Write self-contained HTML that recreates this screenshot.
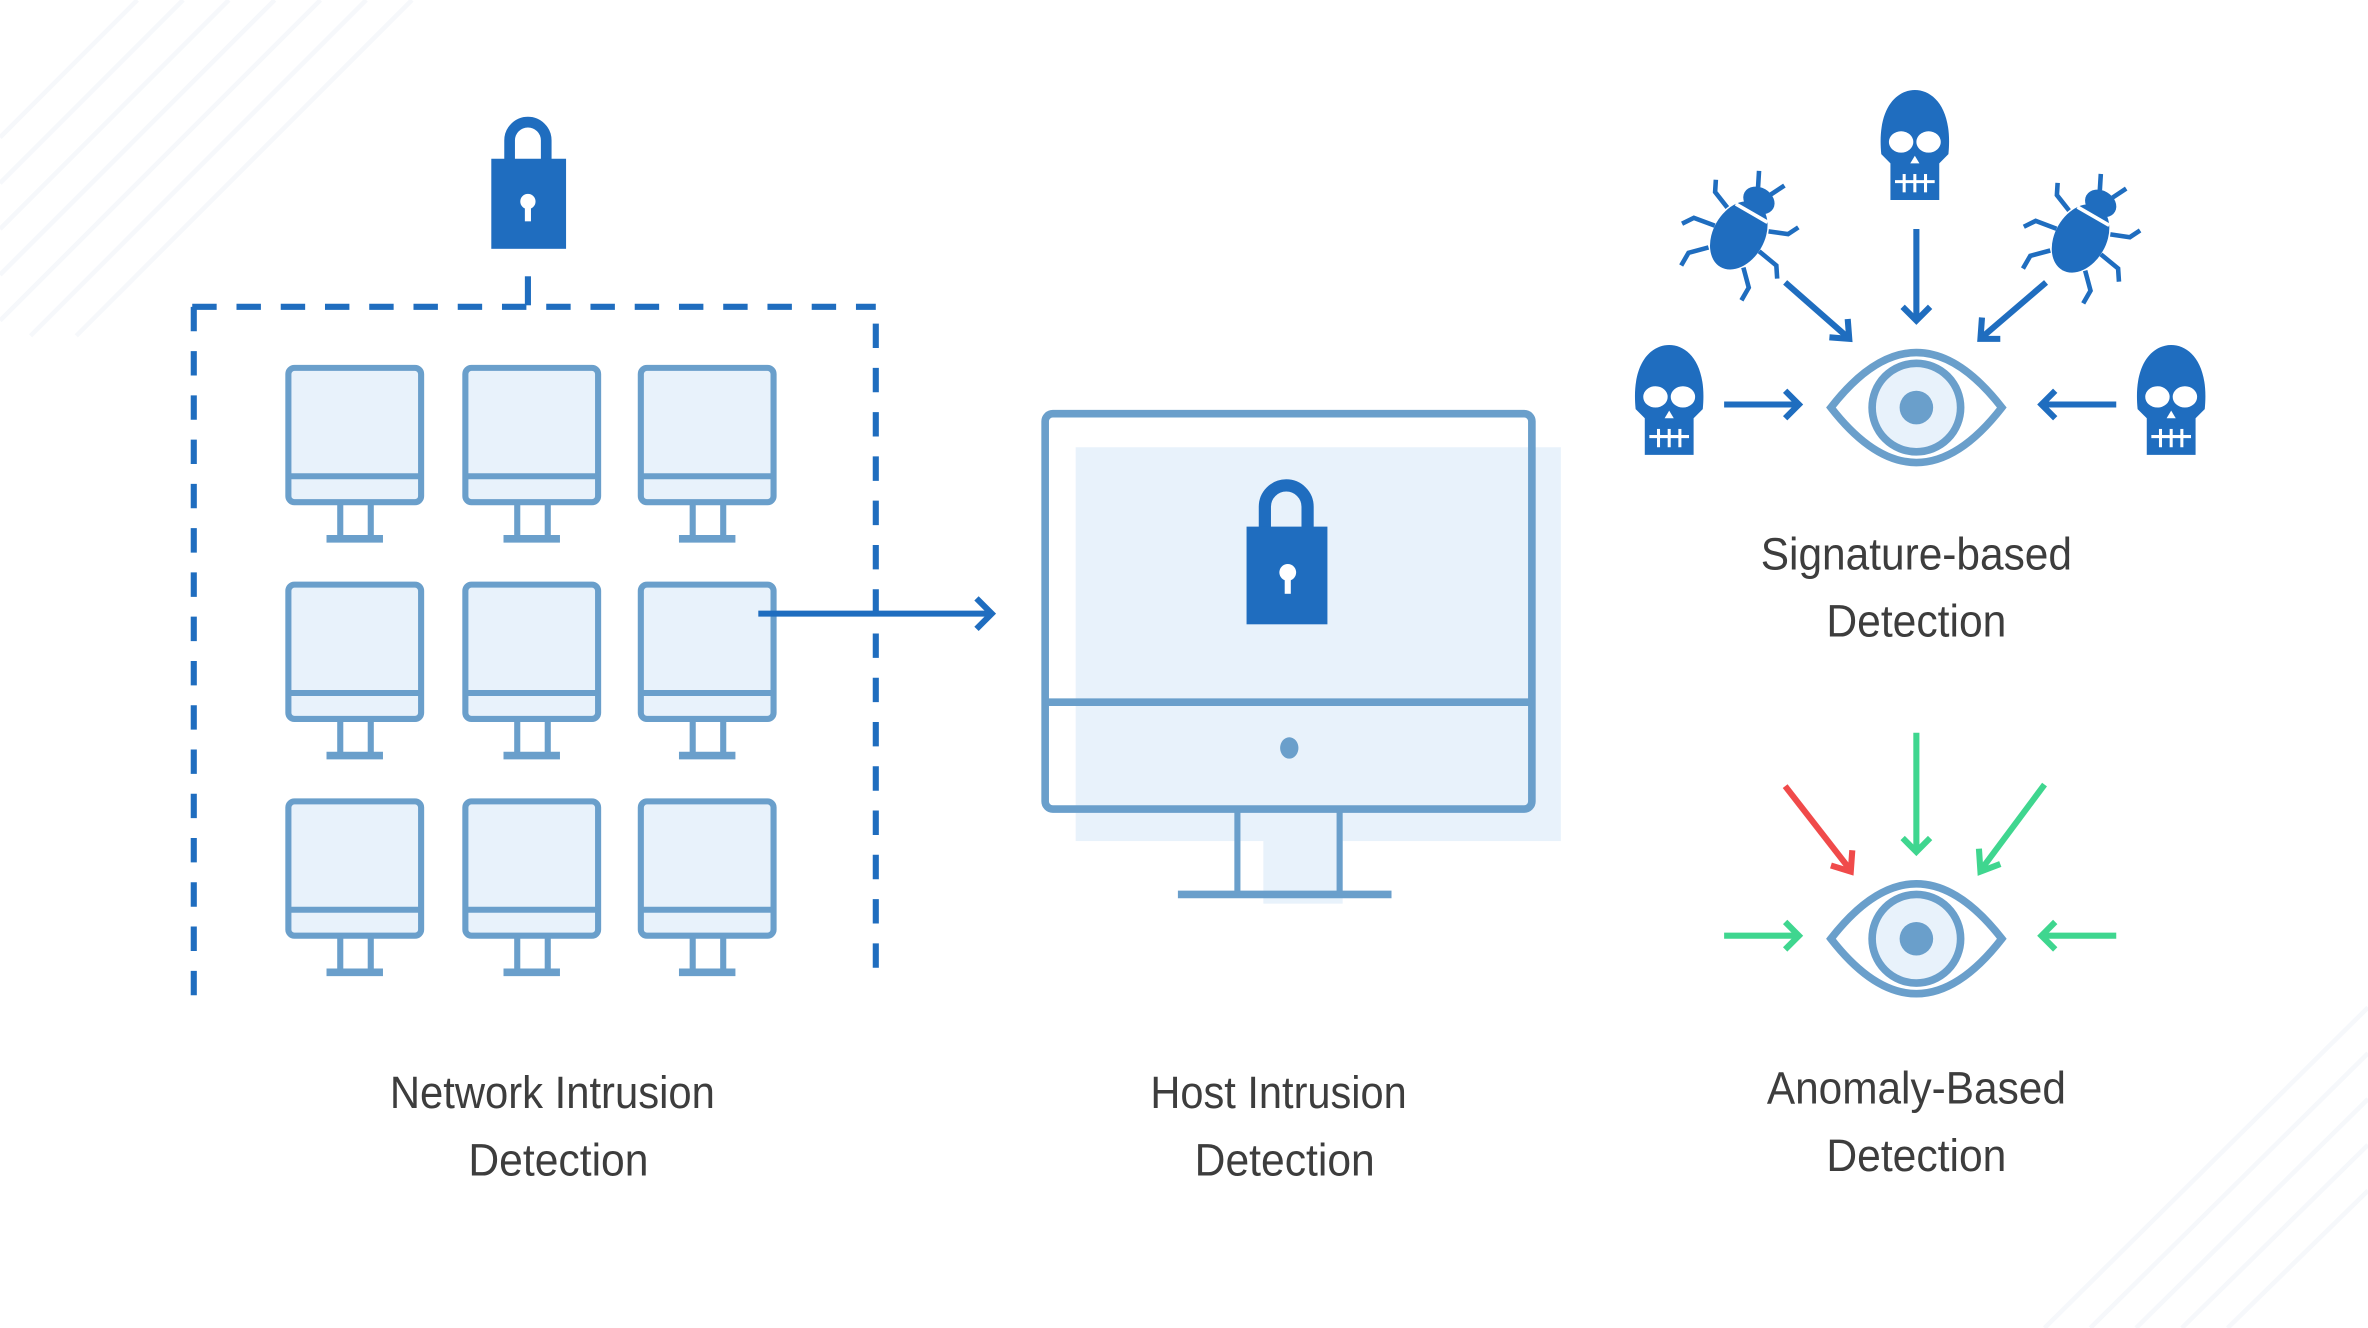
<!DOCTYPE html>
<html><head><meta charset="utf-8"><style>
html,body{margin:0;padding:0;background:#fff;}
svg{display:block;}
text{font-family:"Liberation Sans",sans-serif;fill:#3d3d3d;font-size:30px;}
</style></head><body>
<svg width="2368" height="1328" viewBox="0 0 1552 870" preserveAspectRatio="none" xmlns="http://www.w3.org/2000/svg">
<defs>
<g id="mon">
  <rect x="0" y="0" width="87" height="88" rx="4" fill="#e8f2fb" stroke="#6a9fcb" stroke-width="4"/>
  <line x1="0" y1="71" x2="87" y2="71" stroke="#6a9fcb" stroke-width="4"/>
  <line x1="34" y1="88" x2="34" y2="112" stroke="#6a9fcb" stroke-width="4"/>
  <line x1="54" y1="88" x2="54" y2="112" stroke="#6a9fcb" stroke-width="4"/>
  <line x1="25" y1="112" x2="62" y2="112" stroke="#6a9fcb" stroke-width="5"/>
</g>
<g id="skull">
  <path d="M-22,6 C-25,-24 -12,-36 0,-36 C12,-36 25,-24 22,6 L16,12 L16,36 L-16,36 L-16,12 Z" fill="#1f6dbf"/>
  <ellipse cx="-9" cy="-2" rx="8" ry="7" fill="#fff"/>
  <ellipse cx="9" cy="-2" rx="8" ry="7" fill="#fff"/>
  <path d="M0,7 l-3,5 h6 z" fill="#fff"/>
  <line x1="-13" y1="24" x2="13" y2="24" stroke="#fff" stroke-width="2"/>
  <line x1="-7" y1="19" x2="-7" y2="31" stroke="#fff" stroke-width="2"/>
  <line x1="0" y1="19" x2="0" y2="31" stroke="#fff" stroke-width="2"/>
  <line x1="7" y1="19" x2="7" y2="31" stroke="#fff" stroke-width="2"/>
</g>
<g id="bug" stroke="#1f6dbf" stroke-width="2.5" fill="none">
  <ellipse cx="0" cy="4" rx="14" ry="20" fill="#1f6dbf" stroke="none"/>
  <ellipse cx="0" cy="-18" rx="9" ry="7" fill="#1f6dbf" stroke="none"/>
  <line x1="-10" y1="-10" x2="10" y2="-10" stroke="#fff" stroke-width="2"/>
  <path d="M-4,-24 l-4,-8 M4,-24 l4,-8"/>
  <path d="M-13,-6 l-10,-4 l-3,-6 M13,-6 l10,-4 l3,-6"/>
  <path d="M-14,6 l-12,2 l-4,6 M14,6 l12,2 l4,6"/>
  <path d="M-11,18 l-8,8 l0,8 M11,18 l8,8 l0,8"/>
</g>
<g id="eye">
  <path d="M-56,0 Q0,-72 56,0 Q0,72 -56,0 Z" fill="#fff" stroke="#6a9fcb" stroke-width="5"/>
  <circle cx="0" cy="0" r="29" fill="#e8f2fb" stroke="#6a9fcb" stroke-width="5"/>
  <circle cx="0" cy="0" r="11" fill="#6a9fcb"/>
</g>
</defs>

<!-- faint stripes -->
<g stroke="#f6f8fb" stroke-width="3">
  <line x1="0" y1="90" x2="90" y2="0"/><line x1="0" y1="120" x2="120" y2="0"/><line x1="0" y1="150" x2="150" y2="0"/><line x1="0" y1="180" x2="180" y2="0"/><line x1="0" y1="210" x2="210" y2="0"/><line x1="20" y1="220" x2="240" y2="0"/><line x1="50" y1="220" x2="270" y2="0"/>
  <line x1="1340" y1="870" x2="1552" y2="660"/><line x1="1370" y1="870" x2="1552" y2="690"/><line x1="1400" y1="870" x2="1552" y2="720"/><line x1="1430" y1="870" x2="1552" y2="750"/><line x1="1460" y1="870" x2="1552" y2="780"/>
</g>

<!-- top lock -->
<path d="M334,106 V92 a12,12 0 0 1 24,0 V106" fill="none" stroke="#1f6dbf" stroke-width="7"/>
<rect x="322" y="104" width="49" height="59" fill="#1f6dbf"/>
<circle cx="346" cy="132" r="5" fill="#fff"/><rect x="344" y="132" width="4" height="13" fill="#fff"/>
<line x1="346" y1="181" x2="346" y2="200" stroke="#1f6dbf" stroke-width="4"/>

<!-- dashed box -->
<g stroke="#1f6dbf" stroke-width="4" stroke-dasharray="16 13" fill="none">
  <line x1="126" y1="201" x2="574" y2="201"/>
  <line x1="127" y1="201" x2="127" y2="665"/>
  <line x1="574" y1="212" x2="574" y2="642"/>
</g>

<!-- monitors grid -->
<use href="#mon" x="189" y="241"/><use href="#mon" x="305" y="241"/><use href="#mon" x="420" y="241"/>
<use href="#mon" x="189" y="383"/><use href="#mon" x="305" y="383"/><use href="#mon" x="420" y="383"/>
<use href="#mon" x="189" y="525"/><use href="#mon" x="305" y="525"/><use href="#mon" x="420" y="525"/>

<!-- arrow -->
<line x1="497" y1="402" x2="648" y2="402" stroke="#1f6dbf" stroke-width="4"/>
<path d="M640,392 L650,402 L640,412" fill="none" stroke="#1f6dbf" stroke-width="4"/>

<!-- big monitor -->
<rect x="705" y="293" width="318" height="258" fill="#e8f2fb"/>
<rect x="828" y="530" width="52" height="62" fill="#e8f2fb"/>
<rect x="685" y="271" width="319" height="259" rx="5" fill="none" stroke="#6a9fcb" stroke-width="5"/>
<line x1="685" y1="460" x2="1004" y2="460" stroke="#6a9fcb" stroke-width="5"/>
<ellipse cx="845" cy="490" rx="6" ry="7" fill="#6a9fcb"/>
<line x1="811" y1="530" x2="811" y2="585" stroke="#6a9fcb" stroke-width="4"/>
<line x1="878" y1="530" x2="878" y2="585" stroke="#6a9fcb" stroke-width="4"/>
<line x1="772" y1="586" x2="912" y2="586" stroke="#6a9fcb" stroke-width="5"/>
<path d="M829,348 V332 a14,14 0 0 1 28,0 V348" fill="none" stroke="#1f6dbf" stroke-width="8"/>
<rect x="817" y="345" width="53" height="64" fill="#1f6dbf"/>
<circle cx="844" cy="375" r="5.5" fill="#fff"/><rect x="842" y="375" width="4" height="14" fill="#fff"/>

<!-- signature -->
<use href="#eye" x="1256" y="267"/>
<use href="#skull" x="1255" y="95"/>
<use href="#skull" x="1094" y="262"/>
<use href="#skull" x="1423" y="262"/>
<use href="#bug" transform="translate(1142,150) rotate(30) scale(1.2)"/>
<use href="#bug" transform="translate(1366,152) rotate(30) scale(1.2)"/>
<g stroke="#1f6dbf" stroke-width="4" fill="none">
  <line x1="1130" y1="265" x2="1178" y2="265"/><path d="M1170,256 L1179,265 L1170,274"/>
  <line x1="1387" y1="265" x2="1339" y2="265"/><path d="M1347,256 L1338,265 L1347,274"/>
  <line x1="1256" y1="150" x2="1256" y2="209"/><path d="M1247,201 L1256,210 L1265,201"/>
  <line x1="1170" y1="185" x2="1211" y2="221"/><path d="M1199,221 L1212,222 L1211,209"/>
  <line x1="1341" y1="185" x2="1299" y2="221"/><path d="M1299,208 L1298,222 L1311,222"/>
</g>

<!-- anomaly -->
<use href="#eye" x="1256" y="615"/>
<g stroke="#3fd68f" stroke-width="4" fill="none">
  <line x1="1256" y1="480" x2="1256" y2="557"/><path d="M1247,549 L1256,558 L1265,549"/>
  <line x1="1340" y1="514" x2="1299" y2="569"/><path d="M1297,556 L1298,571 L1311,566"/>
  <line x1="1130" y1="613" x2="1178" y2="613"/><path d="M1170,604 L1179,613 L1170,622"/>
  <line x1="1387" y1="613" x2="1339" y2="613"/><path d="M1347,604 L1338,613 L1347,622"/>
</g>
<g stroke="#f04a4a" stroke-width="4" fill="none">
  <line x1="1170" y1="515" x2="1212" y2="569"/><path d="M1200,567 L1213,571 L1214,557"/>
</g>

<!-- labels -->
<text x="362" y="726" text-anchor="middle" textLength="213" lengthAdjust="spacingAndGlyphs">Network Intrusion</text>
<text x="366" y="770" text-anchor="middle" textLength="118" lengthAdjust="spacingAndGlyphs">Detection</text>
<text x="838" y="726" text-anchor="middle" textLength="168" lengthAdjust="spacingAndGlyphs">Host Intrusion</text>
<text x="842" y="770" text-anchor="middle" textLength="118" lengthAdjust="spacingAndGlyphs">Detection</text>
<text x="1256" y="373" text-anchor="middle" textLength="204" lengthAdjust="spacingAndGlyphs">Signature-based</text>
<text x="1256" y="417" text-anchor="middle" textLength="118" lengthAdjust="spacingAndGlyphs">Detection</text>
<text x="1256" y="723" text-anchor="middle" textLength="196" lengthAdjust="spacingAndGlyphs">Anomaly-Based</text>
<text x="1256" y="767" text-anchor="middle" textLength="118" lengthAdjust="spacingAndGlyphs">Detection</text>
</svg>
</body></html>
